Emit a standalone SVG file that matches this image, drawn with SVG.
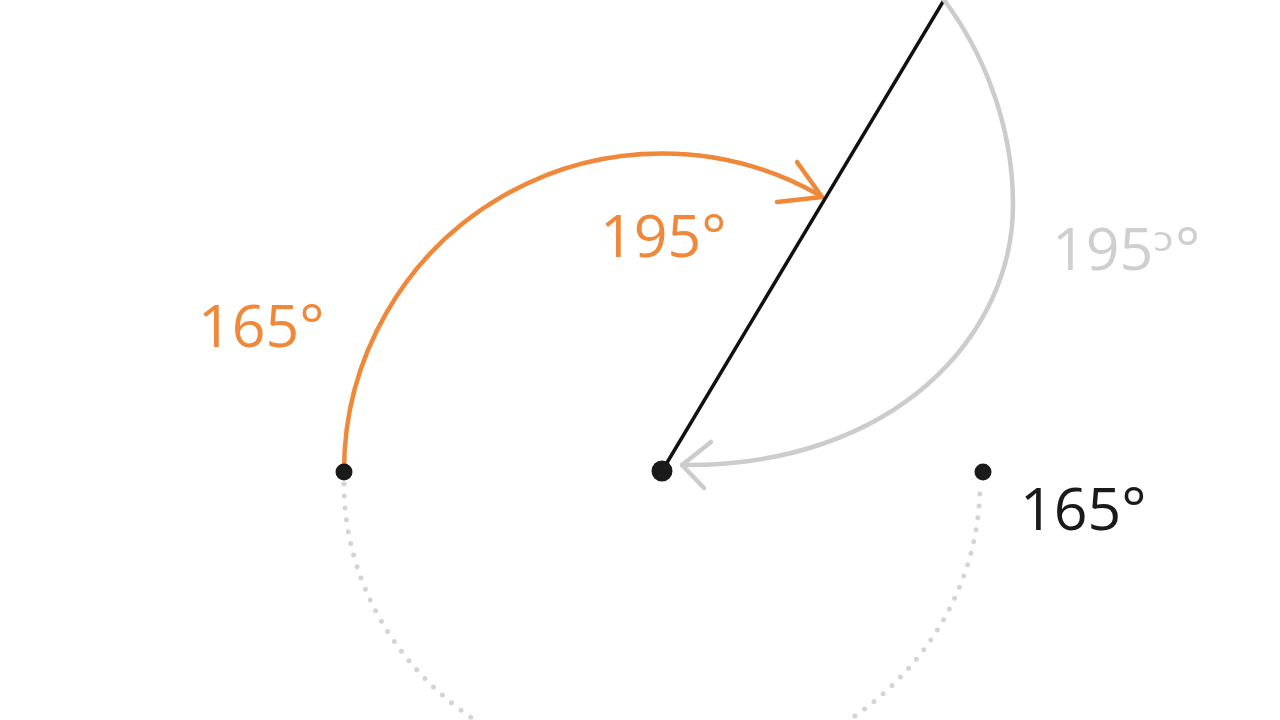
<svg xmlns="http://www.w3.org/2000/svg" width="1280" height="720" viewBox="0 0 1280 720">
  <style>
    .lbl { font-family: "Open Sans", "DejaVu Sans", sans-serif; font-size: 59px; }
    .orange { fill: #F0883A; }
    .grayt { fill: #CFCFCF; }
    .blackt { fill: #1A1A1A; }
    .dot { fill: #1A1A1A; }
  </style>
  <rect width="1280" height="720" fill="#FFFFFF"/>
  <g id="connectors" fill="none" stroke-linecap="round" stroke-linejoin="round">
    <path id="dotted-arc" d="M344,484 A318,292 0 0 0 980,484" stroke="#D4D4D4" stroke-width="5" stroke-dasharray="0 12"/>
    <path id="orange-arc" d="M344,472 A318,318 0 0 1 821,196" stroke="#F0883A" stroke-width="4.5"/>
    <path id="orange-head" d="M797,162 L822,197 L777,202" stroke="#F0883A" stroke-width="4.5"/>
    <line id="black-ray" x1="662" y1="471" x2="944" y2="0" stroke="#111111" stroke-width="3.5"/>
    <path id="gray-arc" d="M944,0 C980,48 1013,120 1013,205 C1013,335 895,467 682,465" stroke="#CCCCCC" stroke-width="4.5"/>
    <path id="gray-head" d="M711,442 L682,465 L704,488" stroke="#CCCCCC" stroke-width="4.5"/>
  </g>
  <g id="node-left"><circle cx="344" cy="472" r="8.5" class="dot"/></g>
  <g id="node-center"><circle cx="662" cy="471" r="10.5" class="dot"/></g>
  <g id="node-right"><circle cx="983" cy="472" r="8.5" class="dot"/></g>
  <g id="label-165-orange"><text x="198" y="347" class="lbl orange">165°</text></g>
  <g id="label-195-orange"><text x="600" y="257" class="lbl orange">195°</text></g>
  <g id="label-195-gray"><text x="1052" y="270" class="lbl grayt">195ᵓ°</text></g>
  <g id="label-165-black"><text x="1020" y="530" class="lbl blackt">165°</text></g>
</svg>
